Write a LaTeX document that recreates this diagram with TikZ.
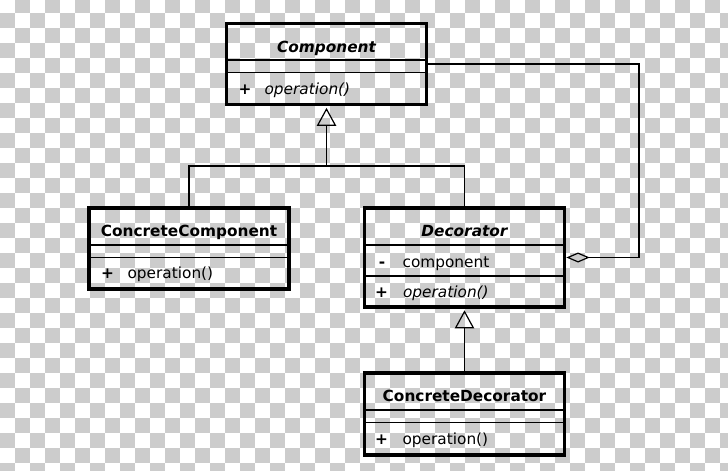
\documentclass[tikz,border=0pt]{standalone}
\usepackage{fontspec}
\setmainfont{DejaVu Sans}
\usetikzlibrary{calc}
\usetikzlibrary{arrows.meta}
\tikzset{every picture/.style={line width=0.9pt}}
\definecolor{checkgray}{RGB}{204,204,204}
\tikzset{
  umlbox/.style={draw, line width=2.7pt, minimum width=150pt, inner sep=0pt, outer sep=0pt},
  umltitle/.style={anchor=base, inner sep=0pt, font=\fontsize{11.5}{14}\selectfont\bfseries},
  umlvis/.style={anchor=base, inner sep=0pt, font=\fontsize{11.5}{14}\selectfont\bfseries},
  umlmember/.style={anchor=base west, inner sep=0pt, font=\fontsize{11.5}{14}\selectfont},
  inherit/.style={-{Triangle[open,length=13.5pt,width=14.5pt]}, shorten >=2.5pt},
  aggr/.style={{Diamond[open,length=17.5pt,width=7.5pt]}-, shorten <=1.4pt}
}

\begin{document}
\begin{tikzpicture}[x=0.75pt,y=0.75pt,yscale=-1,xscale=1]
\useasboundingbox (0,0) rectangle (728,471);

%Background: checker
\begin{scope}
\clip (0,0) rectangle (728,471);
\fill[white] (0,0) rectangle (728,471);
\foreach \c in {0,...,48}
  \foreach \r in {0,...,31}
    {\ifodd\numexpr\c+\r\relax \fill[checkgray] (15*\c,15*\r-1.7) rectangle ++(15,15); \fi}
\end{scope}

%Shape: Rectangle [Component]
\node[umlbox, minimum height=60.75pt] (comp) at (326.5,64) {};
%Shape: Rectangle [ConcreteComponent]
\node[umlbox, minimum height=60.75pt] (ccomp) at (189,248.5) {};
%Shape: Rectangle [Decorator]
\node[umlbox, minimum height=74.25pt] (deco) at (464.5,257.5) {};
%Shape: Rectangle [ConcreteDecorator]
\node[umlbox, minimum height=61.5pt] (cdeco) at (464.5,414) {};

%Straight Lines: compartments
\foreach \b/\d in {comp/36.5, comp/49, ccomp/37, ccomp/49.5, deco/37, deco/68, cdeco/37, cdeco/49.5}
  \draw ($(\b.north west)+(0,\d)$) -- ($(\b.north east)+(0,\d)$);

% Text Node
\node[umltitle] (compT) at (326.5,52) {\itshape Component};
\node[umlvis] (compV) at (245,94) {+};
\node[umlmember] (compOp) at (264,94) {\itshape operation()};
% Text Node
\node[umltitle] (ccompT) at (189,236.5) {ConcreteComponent};
\node[umlvis] (ccompV) at (107.5,278.5) {+};
\node[umlmember] (ccompOp) at (127,278.5) {operation()};
% Text Node
\node[umltitle] (decoT) at (464.5,236.5) {\itshape Decorator};
\node[umlvis] (decoV) at (382,267) {-};
\node[umlmember] (decoAt) at (402,267) {component};
\node[umlvis] (decoW) at (381.5,297.5) {+};
\node[umlmember] (decoOp) at (402.5,297.5) {\itshape operation()};
% Text Node
\node[umltitle] (cdecoT) at (464.5,401.5) {ConcreteDecorator};
\node[umlvis] (cdecoV) at (381.5,444) {+};
\node[umlmember] (cdecoOp) at (402,444) {operation()};

%Connectors
\coordinate (join) at (326.5,166);
\coordinate (bend) at (639,64);
\draw[inherit] (ccomp.north) |- (join) -- (comp.south);
\draw (deco.north) |- (join);
\draw[inherit] (cdeco.north) -- (deco.south);
\draw[aggr] (deco.east) -| (bend) -- (comp.east);

\end{tikzpicture}
\end{document}
